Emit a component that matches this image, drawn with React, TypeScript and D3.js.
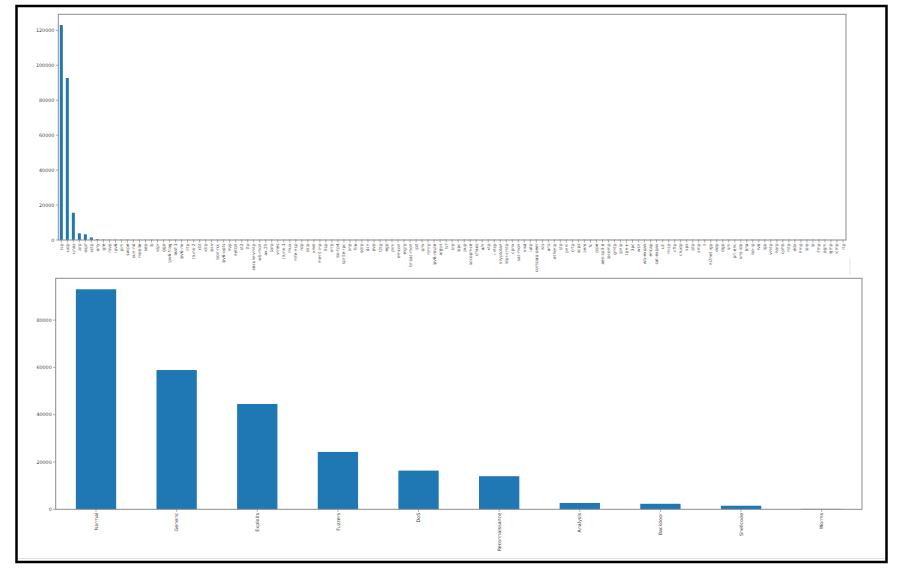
import React from "react";
import * as d3 from "d3";

const protoNames = [
  "tcp","udp","unas","arp","ospf","sctp","any","gre","rsvp","ipv6","pim","swipe","sun-nd","mobile","sep",
  "ib","idpr","ggp","ipv6-frag","leaf-1","ipv6-no","irtp","trunk-2","cbt","idrp","ipcv","bbn-rcc","ipv6-opts",
  "nvp","netblt","st2","ttp","secure-vmtp","wb-mon","ax.25","larp","vines","trunk-1","mux","mfe-nsp","rdp",
  "skip","xnet","merit-inp","tlsp","vrrp","iso-tp4","sprite-rpc","snp","fire","sdrp","dcn","pvp","l2tp",
  "egp","prm","emcon","eigrp","br-sat-mon","iplt","qnx","mhrp","ipv6-route","argus","tcf","srp","ippc",
  "pup","sccopmce","chaos","a/n","xtp","i-nlsp","kryptolan","idpr-cmtp","cpnx","sat-mon","visa","iatp",
  "compaq-peer","isis","aris","etherip","stp","pnni","crtp","scps","zero","fc","pipe","aes-sp3-d","ipcomp",
  "gmtp","ipnip","tp++","3pc","wsn","wb-expak","encap","sat-expak","uti","micp","cftp","crudp","sps","ptp",
  "smp","il","nsfnet-igp","ddp","dgp","sm","pri-enc","xns-idp","bna","iso-ip","rvd","igp","vmtp","narp",
  "cphb","mtp","ddx","hmp","ipip","ip","ifmp","pgm","igmp","icmp","rtp"
];

const protoCounts = [
  123041, 92701, 15599, 3846, 3271, 1473, 411, 254, 211, 154, 146, 141, 139, 138, 137,
  135, 134, 134, 134, 134, 134, 133, 133, 133, 133, 133, 133, 133,
  133, 133, 133, 133, 133, 133, 133, 133, 133, 133, 133, 133, 133,
  133, 133, 133, 133, 133, 133, 133, 133, 133, 133, 133, 133, 133,
  133, 133, 133, 133, 133, 133, 133, 133, 133, 133, 133, 133, 133,
  133, 133, 133, 133, 133, 133, 133, 133, 133, 133, 133, 133,
  133, 133, 133, 133, 133, 133, 133, 133, 133, 133, 133, 133, 133,
  133, 133, 133, 133, 133, 133, 133, 133, 133, 133, 133, 133, 133, 133,
  133, 133, 132, 132, 132, 132, 132, 132, 132, 132, 132, 132, 132, 132,
  132, 132, 132, 132, 132, 131, 131, 130, 79, 34, 15, 1
];

const protoTicks = [0, 20000, 40000, 60000, 80000, 100000, 120000];

const attackCats = ["Normal","Generic","Exploits","Fuzzers","DoS","Reconnaissance","Analysis","Backdoor","Shellcode","Worms"];
const attackCounts = [93000, 58871, 44525, 24246, 16353, 13987, 2677, 2329, 1511, 174];
const attackTicks = [0, 20000, 40000, 60000, 80000];

const BAR = "#1f77b4";
const FONT = "DejaVu Sans, sans-serif";
const TXT = "#444";
const TICK = "#777";
const FRAME = "#8c8c8c";

type PanelProps = {
  names: string[];
  values: number[];
  ticks: number[];
  left: number;
  right: number;
  top: number;
  bottom: number;
  yFont: number;
  xFont: number;
};

function Panel({ names, values, ticks, left, right, top, bottom, yFont, xFont }: PanelProps) {
  const x = d3.scaleBand<string>().domain(names).range([left, right]).paddingInner(0.5).paddingOuter(0.25);
  const y = d3.scaleLinear().domain([0, (d3.max(values) as number) * 1.05]).range([bottom, top]);
  return (
    <g>
      {names.map((n, i) => (
        <rect key={n} x={x(n)} y={y(values[i])} width={x.bandwidth()} height={bottom - y(values[i])} fill={BAR} />
      ))}
      <rect x={left} y={top} width={right - left} height={bottom - top} fill="none" stroke={FRAME} strokeWidth={1} />
      {ticks.map((t) => (
        <g key={t}>
          <line x1={left - 2.5} x2={left} y1={y(t)} y2={y(t)} stroke={TICK} strokeWidth={0.6} />
          <text x={left - 4} y={y(t)} dy="0.35em" textAnchor="end" fontSize={yFont} fontFamily={FONT} fill={TXT}>
            {t}
          </text>
        </g>
      ))}
      {names.map((n) => {
        const cx = (x(n) as number) + x.bandwidth() / 2;
        return (
          <g key={"l" + n}>
            <line x1={cx} x2={cx} y1={bottom} y2={bottom + 2.5} stroke={TICK} strokeWidth={0.6} />
            <text
              transform={`translate(${cx},${bottom + 3.5}) rotate(-90)`}
              textAnchor="end"
              dy="0.35em"
              fontSize={xFont}
              fontFamily={FONT}
              fill={TXT}
            >
              {n}
            </text>
          </g>
        );
      })}
    </g>
  );
}

export default function App() {
  return (
    <svg
      width={911}
      height={571}
      style={{ position: "absolute", left: 0, top: 0, background: "#fff" }}
    >
      <rect x={0} y={0} width={911} height={571} fill="#fff" />
      <Panel
        names={protoNames}
        values={protoCounts}
        ticks={protoTicks}
        left={58.3}
        right={846}
        top={14.3}
        bottom={240}
        yFont={4.8}
        xFont={4.3}
      />
      <line x1={850} x2={850} y1={258} y2={275} stroke="#e3e3e3" strokeWidth={1} />
      <Panel
        names={attackCats}
        values={attackCounts}
        ticks={attackTicks}
        left={55.7}
        right={862}
        top={278.3}
        bottom={509.3}
        yFont={4.8}
        xFont={4.8}
      />
      <line x1={18} x2={885} y1={558.5} y2={558.5} stroke="#e0e0e0" strokeWidth={1} />
      <rect x={16.5} y={6} width={870} height={556} fill="none" stroke="#000" strokeWidth={2.5} />
    </svg>
  );
}
